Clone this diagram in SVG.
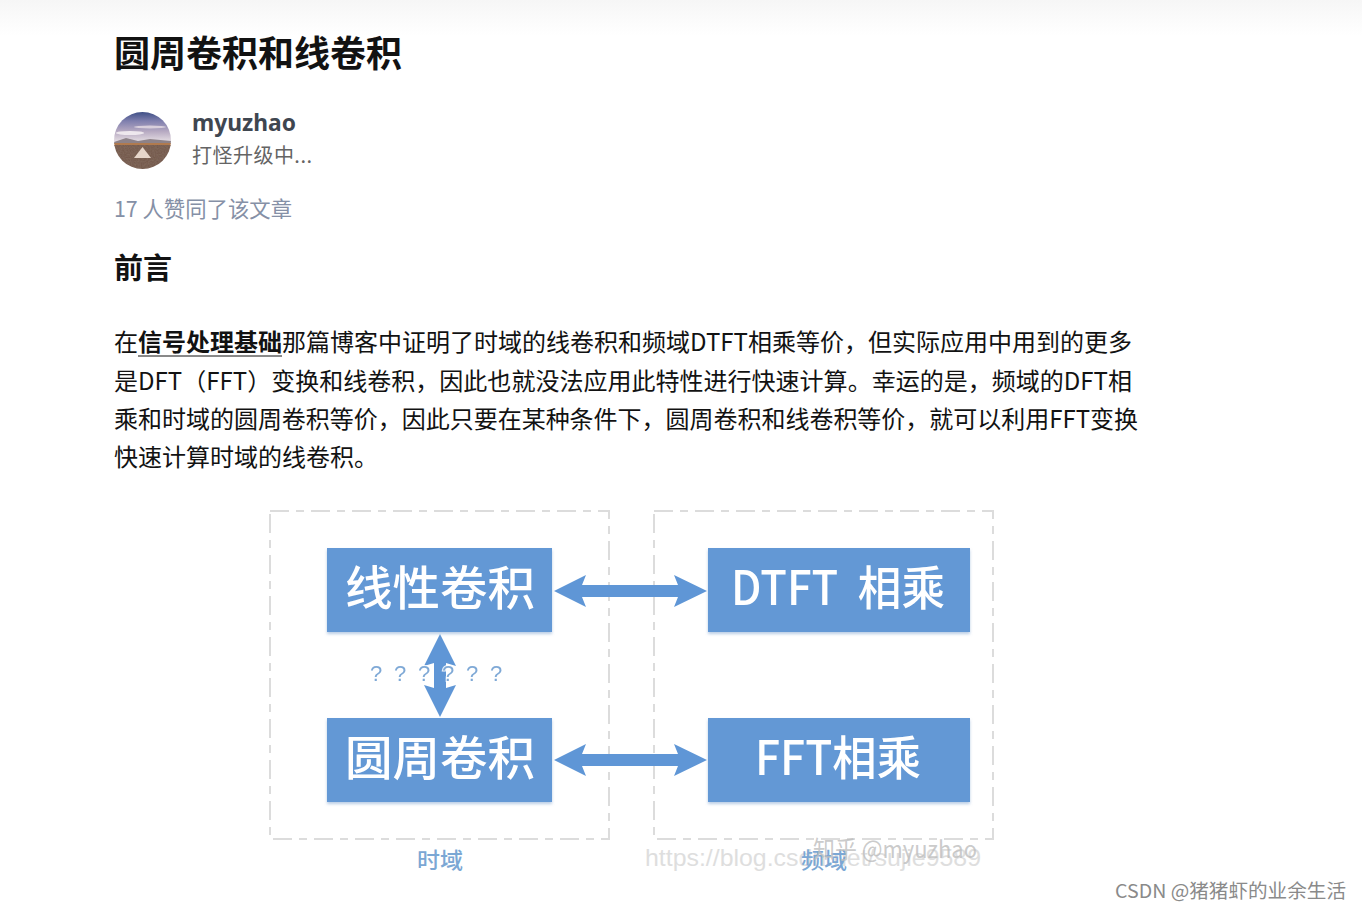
<svg xmlns="http://www.w3.org/2000/svg" width="1362" height="910" viewBox="0 0 1362 910">
<style>
text{font-family:"Noto Sans CJK SC","Liberation Sans",sans-serif}
.body{font-size:24px;fill:#121212}
.box{fill:#6398d5}
.lbl{fill:#fff;font-size:47px;font-weight:500;text-anchor:middle}
.frame{fill:none;stroke:#dcdcdc;stroke-width:2;stroke-dasharray:19 7 8 7}
.arrow{fill:#5f96d6}
.dom{font-size:22px;font-weight:500;fill:#7ba7d4;text-anchor:middle}
.q{font-size:22px;fill:#7fa9d6;text-anchor:middle;font-family:"Liberation Sans",sans-serif}
.halo{stroke:#fff;stroke-width:2;paint-order:stroke;stroke-opacity:.85}
.soft{filter:url(#soft)}
</style>
<defs>
<linearGradient id="top" x1="0" y1="0" x2="0" y2="1"><stop offset="0" stop-color="#f6f6f6"/><stop offset="1" stop-color="#fff"/></linearGradient>
<linearGradient id="sky" x1="0" y1="0" x2="0" y2="1"><stop offset="0" stop-color="#3f4f86"/><stop offset=".3" stop-color="#7f7fae"/><stop offset=".65" stop-color="#b7aac2"/><stop offset="1" stop-color="#e6dfe4"/></linearGradient>
<clipPath id="av"><circle cx="142.500" cy="140.500" r="28.500"/></clipPath>
<filter id="sh" x="-5%" y="-5%" width="110%" height="115%"><feDropShadow dx="0" dy="2" stdDeviation="1.500" flood-color="#9bb8da" flood-opacity=".7"/></filter>
<filter id="soft" x="-5%" y="-5%" width="110%" height="110%"><feGaussianBlur stdDeviation=".45"/></filter>
<filter id="speck" x="0" y="0" width="100%" height="100%"><feTurbulence type="fractalNoise" baseFrequency=".7" numOctaves="2" seed="4"/><feColorMatrix values="0 0 0 0 .25  0 0 0 0 .17  0 0 0 0 .13  .9 0 0 0 -.15"/><feComposite in2="SourceGraphic" operator="in"/><feMerge><feMergeNode in="SourceGraphic"/><feMergeNode/></feMerge></filter>
</defs>
<rect width="1362" height="910" fill="#fff"/>
<rect width="1362" height="36" fill="url(#top)"/>
<text x="114" y="67" font-size="36" font-weight="700" fill="#121212">圆周卷积和线卷积</text>
<g id="avatar" clip-path="url(#av)">
<rect x="114" y="112" width="57" height="30" fill="url(#sky)"/>
<ellipse cx="150" cy="127" rx="16" ry="1.500" fill="#d8cfdc"/>
<ellipse cx="130" cy="133" rx="14" ry="2" fill="#eee8ee"/>
<polygon points="114,142 126,138 138,141 150,139 171,141 171,144 114,144" fill="#8d8288"/>
<rect x="114" y="143" width="57" height="3" fill="#b07a4e"/>
<rect x="114" y="145" width="57" height="24" fill="#73584c" filter="url(#speck)"/>
<polygon points="142.500,147 134,158 151,158" fill="#e6d6ca"/>
</g>
<text x="192" y="131" font-size="24" font-weight="700" fill="#3f4650" textLength="104" lengthAdjust="spacingAndGlyphs" style="font-family:'Noto Sans','Liberation Sans',sans-serif">myuzhao</text>
<text x="192" y="163" font-size="20" fill="#646464" textLength="120">打怪升级中...</text>
<text x="114" y="217" font-size="22" fill="#8590a6" textLength="178" lengthAdjust="spacingAndGlyphs">17 人赞同了该文章</text>
<text x="114" y="279" font-size="29" font-weight="700" fill="#121212">前言</text>
<text class="body" x="114" y="351" textLength="1018" lengthAdjust="spacing">在<tspan font-weight="700">信号处理基础</tspan>那篇博客中证明了时域的线卷积和频域DTFT相乘等价，但实际应用中用到的更多</text>
<line x1="138" y1="356" x2="282" y2="356" stroke="#121212" stroke-width="1"/>
<text class="body" x="114" y="390" textLength="1018" lengthAdjust="spacing">是DFT（FFT）变换和线卷积，因此也就没法应用此特性进行快速计算。幸运的是，频域的DFT相</text>
<text class="body" x="114" y="428" textLength="1024" lengthAdjust="spacing">乘和时域的圆周卷积等价，因此只要在某种条件下，圆周卷积和线卷积等价，就可以利用FFT变换</text>
<text class="body" x="114" y="466">快速计算时域的线卷积。</text>
<g id="frame-time" class="soft"><rect class="frame" x="270" y="511" width="339" height="328"/></g>
<g id="frame-freq" class="soft"><rect class="frame" x="654" y="511" width="339" height="328"/></g>
<g id="connectors" class="soft">
<polygon class="arrow" points="554,591 586,575 582,585 678,585 674,575 707,591 674,607 678,597 582,597 586,607"/>
<polygon class="arrow" points="554,760 586,744 582,754 678,754 674,744 707,760 674,776 678,766 582,766 586,776"/>
<polygon class="arrow" points="440,634 456,666 446,663 446,688 456,685 440,717 424,685 434,688 434,663 424,666"/>
</g>
<g id="n-linear" class="soft"><rect class="box" filter="url(#sh)" x="327" y="548" width="225" height="84"/><text class="lbl" x="440" y="605" textLength="190" lengthAdjust="spacingAndGlyphs">线性卷积</text></g>
<g id="n-circular" class="soft"><rect class="box" filter="url(#sh)" x="327" y="718" width="225" height="84"/><text class="lbl" x="440" y="775" textLength="190" lengthAdjust="spacingAndGlyphs">圆周卷积</text></g>
<g id="n-dtft" class="soft"><rect class="box" filter="url(#sh)" x="708" y="548" width="262" height="84"/><text class="lbl" x="838" y="605" xml:space="preserve" textLength="214" lengthAdjust="spacingAndGlyphs">DTFT  相乘</text></g>
<g id="n-fft" class="soft"><rect class="box" filter="url(#sh)" x="708" y="718" width="262" height="84"/><text class="lbl" x="838" y="775" textLength="166" lengthAdjust="spacingAndGlyphs">FFT相乘</text></g>
<g id="question" class="soft">
<text class="q" x="376" y="681">?</text><text class="q" x="400" y="681">?</text><text class="q halo" x="424" y="681">?</text><text class="q halo" x="448" y="681">?</text><text class="q" x="472" y="681">?</text><text class="q" x="496" y="681">?</text>
</g>
<text class="dom" x="440" y="868" textLength="46" lengthAdjust="spacingAndGlyphs">时域</text>
<text x="645" y="866" font-size="24" fill="#dedede" textLength="336" lengthAdjust="spacingAndGlyphs" style="font-family:'Liberation Sans',sans-serif">https://blog.csdn.net/sujie9589</text>
<text class="dom" x="824" y="868" textLength="46" lengthAdjust="spacingAndGlyphs">频域</text>
<text x="813" y="858" font-size="24" fill="#bdbdbd" fill-opacity=".8" textLength="164" lengthAdjust="spacingAndGlyphs">知乎 @myuzhao</text>
<text x="1115" y="898" font-size="19" fill="#8a8a8a" textLength="231" lengthAdjust="spacingAndGlyphs">CSDN @猪猪虾的业余生活</text>
</svg>
